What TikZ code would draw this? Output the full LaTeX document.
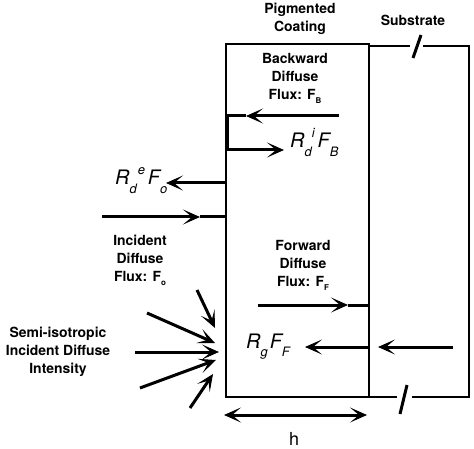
\documentclass[tikz,border=0pt]{standalone}
\usepackage{fontspec}
\setmainfont{TeX Gyre Heros}
\usetikzlibrary{arrows.meta}
\tikzset{
  lbl/.style={inner sep=0pt, align=center, font=\fontsize{14}{18}\selectfont\bfseries},
  mlbl/.style={inner sep=0pt, anchor=base west, font=\fontsize{20}{20}\selectfont\itshape},
  box/.style={line width=2.5bp},
  tipA/.tip={Stealth[length=17bp,width=15bp,inset=9bp,line width=1bp]},
  arr/.style={line width=3bp, -tipA},
  plain/.style={line width=3bp},
  darr/.style={line width=3bp, tipA-tipA}
}
\newcommand{\sbd}[1]{\raisebox{-8.5bp}{\fontsize{13}{13}\selectfont #1}}
\newcommand{\spu}[1]{\raisebox{10bp}{\fontsize{13}{13}\selectfont #1}}
\newcommand{\ssub}[1]{\raisebox{-4bp}{\fontsize{8}{8}\selectfont #1}}
\begin{document}
\begin{tikzpicture}[x=1bp,y=-1bp]
\useasboundingbox (0,0) rectangle (474,449);
% coating box
\coordinate (cTL) at (226,44);
\coordinate (cBR) at (369,397);
\draw[box] (cTL) rectangle (cBR);
% substrate outline
\coordinate (s1) at (369,46);
\coordinate (s2) at (410,46);
\coordinate (s3) at (423,46);
\coordinate (s4) at (469,46);
\coordinate (s5) at (469,397);
\coordinate (s6) at (412,397);
\coordinate (s7) at (397,397);
\coordinate (s8) at (369,397);
\coordinate (t1) at (421,35);
\coordinate (t2) at (413,58);
\coordinate (b1) at (407,385);
\coordinate (b2) at (400,414);
\draw[box] (s1) -- (s2);
\draw[box] (s3) -- (s4) -- (s5) -- (s6);
\draw[box] (s7) -- (s8);
\draw[line width=3bp] (t1) -- (t2);
\draw[line width=3bp] (b1) -- (b2);
% titles
\node[lbl, anchor=north] (pig) at (300,3) {Pigmented\\Coating};
\node[lbl, anchor=north] (sub) at (413,15) {Substrate};
\node[lbl, anchor=north] (bwd) at (295,53) {Backward\\Diffuse\\Flux: F\ssub{B}};
\node[lbl, anchor=north] (inc) at (140,235) {Incident\\Diffuse\\Flux: F\ssub{o}};
\node[lbl, anchor=north] (fwd) at (303,240) {Forward\\Diffuse\\Flux: F\ssub{F}};
\node[lbl, anchor=north] (semi) at (58,327) {Semi-isotropic\\Incident Diffuse\\Intensity};
\node[inner sep=0pt, anchor=north, font=\fontsize{18}{18}\selectfont] (h) at (294,432) {h};
% math labels
\node[mlbl] (rdi) at (290,148) {R\sbd{d}\spu{i}\hspace{3bp}F\sbd{B}};
\node[mlbl] (rde) at (115,185) {R\sbd{d}\hspace{1bp}\spu{e}\hspace{3bp}F\sbd{o}};
\node[mlbl] (rg) at (246,348) {R\sbd{g}\hspace{2bp}F\sbd{F}};
% backward flux
\coordinate (fb0) at (339,116);
\coordinate (fb1) at (246,116);
\coordinate (fb2) at (226,116);
\coordinate (fb3) at (226,150);
\coordinate (fb4) at (284,150);
\draw[arr] (fb0) -- (fb1);
\draw[plain] (fb1) -- (fb2);
\draw[line width=4.5bp] ([xshift=1bp]fb2) -- ([xshift=1bp]fb3);
\draw[arr] (fb3) -- (fb4);
% left side
\coordinate (re0) at (226,183);
\coordinate (re1) at (166,183);
\draw[arr] (re0) -- (re1);
\coordinate (in0) at (102,217);
\coordinate (in1) at (200,217);
\coordinate (in2) at (226,217);
\draw[arr] (in0) -- (in1);
\draw[plain] (in1) -- (in2);
% forward flux
\coordinate (ff0) at (258,305);
\coordinate (ff1) at (348,305);
\coordinate (ff2) at (369,305);
\draw[arr] (ff0) -- (ff1);
\draw[plain] (ff1) -- (ff2);
\coordinate (rg0) at (369,347);
\coordinate (rg1) at (305,347);
\draw[arr] (rg0) -- (rg1);
\coordinate (sb0) at (453,347);
\coordinate (sb1) at (378,347);
\draw[arr] (sb0) -- (sb1);
% semi-isotropic arrows
\coordinate (a1) at (197,290); \coordinate (e1) at (215,328);
\coordinate (a2) at (147,313); \coordinate (e2) at (215,343);
\coordinate (a3) at (135,352); \coordinate (e3) at (219,352);
\coordinate (a4) at (140,388); \coordinate (e4) at (216,360);
\coordinate (a5) at (190,408); \coordinate (e5) at (213,374);
\foreach \i in {1,...,5} \draw[arr] (a\i) -- (e\i);
% thickness
\coordinate (h0) at (224,415);
\coordinate (h1) at (367,415);
\draw[darr] (h0) -- (h1);
\end{tikzpicture}
\end{document}
